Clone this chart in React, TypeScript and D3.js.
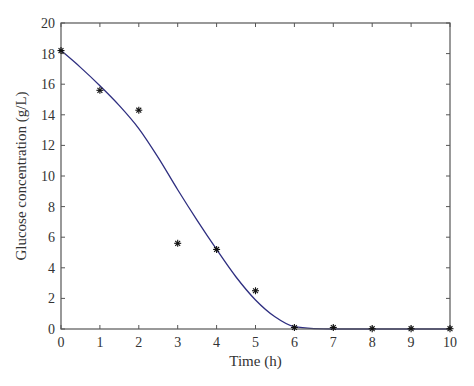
import * as d3 from 'd3'

const obsTime = [0, 1, 2, 3, 4, 5, 6, 7, 8, 9, 10]
const obsGlucose = [18.2, 15.6, 14.3, 5.6, 5.2, 2.5, 0.1, 0.1, 0.02, 0.02, 0.02]

const fitTime = [0, 0.5, 1, 1.5, 2, 2.5, 3, 3.5, 4, 4.5, 5, 5.5, 6, 6.5, 7, 8, 9, 10]
const fitGlucose = [18.2, 17.1, 15.9, 14.6, 13.1, 11.2, 9.1, 7.1, 5.2, 3.4, 1.9, 0.8, 0.15, 0.03, 0, 0, 0, 0]

const xTicks = [0, 1, 2, 3, 4, 5, 6, 7, 8, 9, 10]
const yTicks = [0, 2, 4, 6, 8, 10, 12, 14, 16, 18, 20]

const W = 474
const H = 386
const m = { left: 61, right: 24, top: 23, bottom: 57 }

export default function App() {
  const x = d3.scaleLinear().domain([0, 10]).range([m.left, W - m.right])
  const y = d3.scaleLinear().domain([0, 20]).range([H - m.bottom, m.top])
  const line = d3
    .line<number>()
    .x((_, i) => x(fitTime[i]))
    .y((d) => y(d))
    .curve(d3.curveMonotoneX)

  const axis = '#555'
  const font = '"Liberation Serif", "DejaVu Serif", serif'
  const x0 = x(0)
  const x1 = x(10)
  const y0 = y(0)
  const y1 = y(20)

  return (
    <svg
      width={W}
      height={H}
      style={{ position: 'absolute', left: 0, top: 0, background: '#fff' }}
      fontFamily={font}
    >
      <rect x={0} y={0} width={W} height={H} fill="#fff" />
      <path d={line(fitGlucose) ?? ''} fill="none" stroke="#2e2e80" strokeWidth={1.3} />

      {/* frame */}
      <rect x={x0} y={y1} width={x1 - x0} height={y0 - y1} fill="none" stroke={axis} strokeWidth={1.2} />

      {xTicks.map((t) => (
        <g key={'x' + t}>
          <line x1={x(t)} x2={x(t)} y1={y0} y2={y0 - 4} stroke={axis} />
          <line x1={x(t)} x2={x(t)} y1={y1} y2={y1 + 4} stroke={axis} />
          <text x={x(t)} y={y0 + 18} textAnchor="middle" fontSize={14} fill="#333">
            {t}
          </text>
        </g>
      ))}
      {yTicks.map((t) => (
        <g key={'y' + t}>
          <line x1={x0} x2={x0 + 4} y1={y(t)} y2={y(t)} stroke={axis} />
          <line x1={x1} x2={x1 - 4} y1={y(t)} y2={y(t)} stroke={axis} />
          <text x={x0 - 6} y={y(t)} dy="0.35em" textAnchor="end" fontSize={14} fill="#333">
            {t}
          </text>
        </g>
      ))}

      {obsTime.map((t, i) => {
        const cx = x(t)
        const cy = y(obsGlucose[i])
        const r = 3.5
        const d = r * 0.7
        return (
          <g key={'p' + i} stroke="#111" strokeWidth={1.1}>
            <line x1={cx - r} x2={cx + r} y1={cy} y2={cy} />
            <line x1={cx} x2={cx} y1={cy - r} y2={cy + r} />
            <line x1={cx - d} x2={cx + d} y1={cy - d} y2={cy + d} />
            <line x1={cx - d} x2={cx + d} y1={cy + d} y2={cy - d} />
          </g>
        )
      })}

      <text x={(x0 + x1) / 2} y={366} textAnchor="middle" fontSize={15} fill="#333">
        Time (h)
      </text>
      <text
        transform={`translate(26,${(y0 + y1) / 2}) rotate(-90)`}
        textAnchor="middle"
        fontSize={15}
        fill="#333"
      >
        Glucose concentration (g/L)
      </text>
    </svg>
  )
}
